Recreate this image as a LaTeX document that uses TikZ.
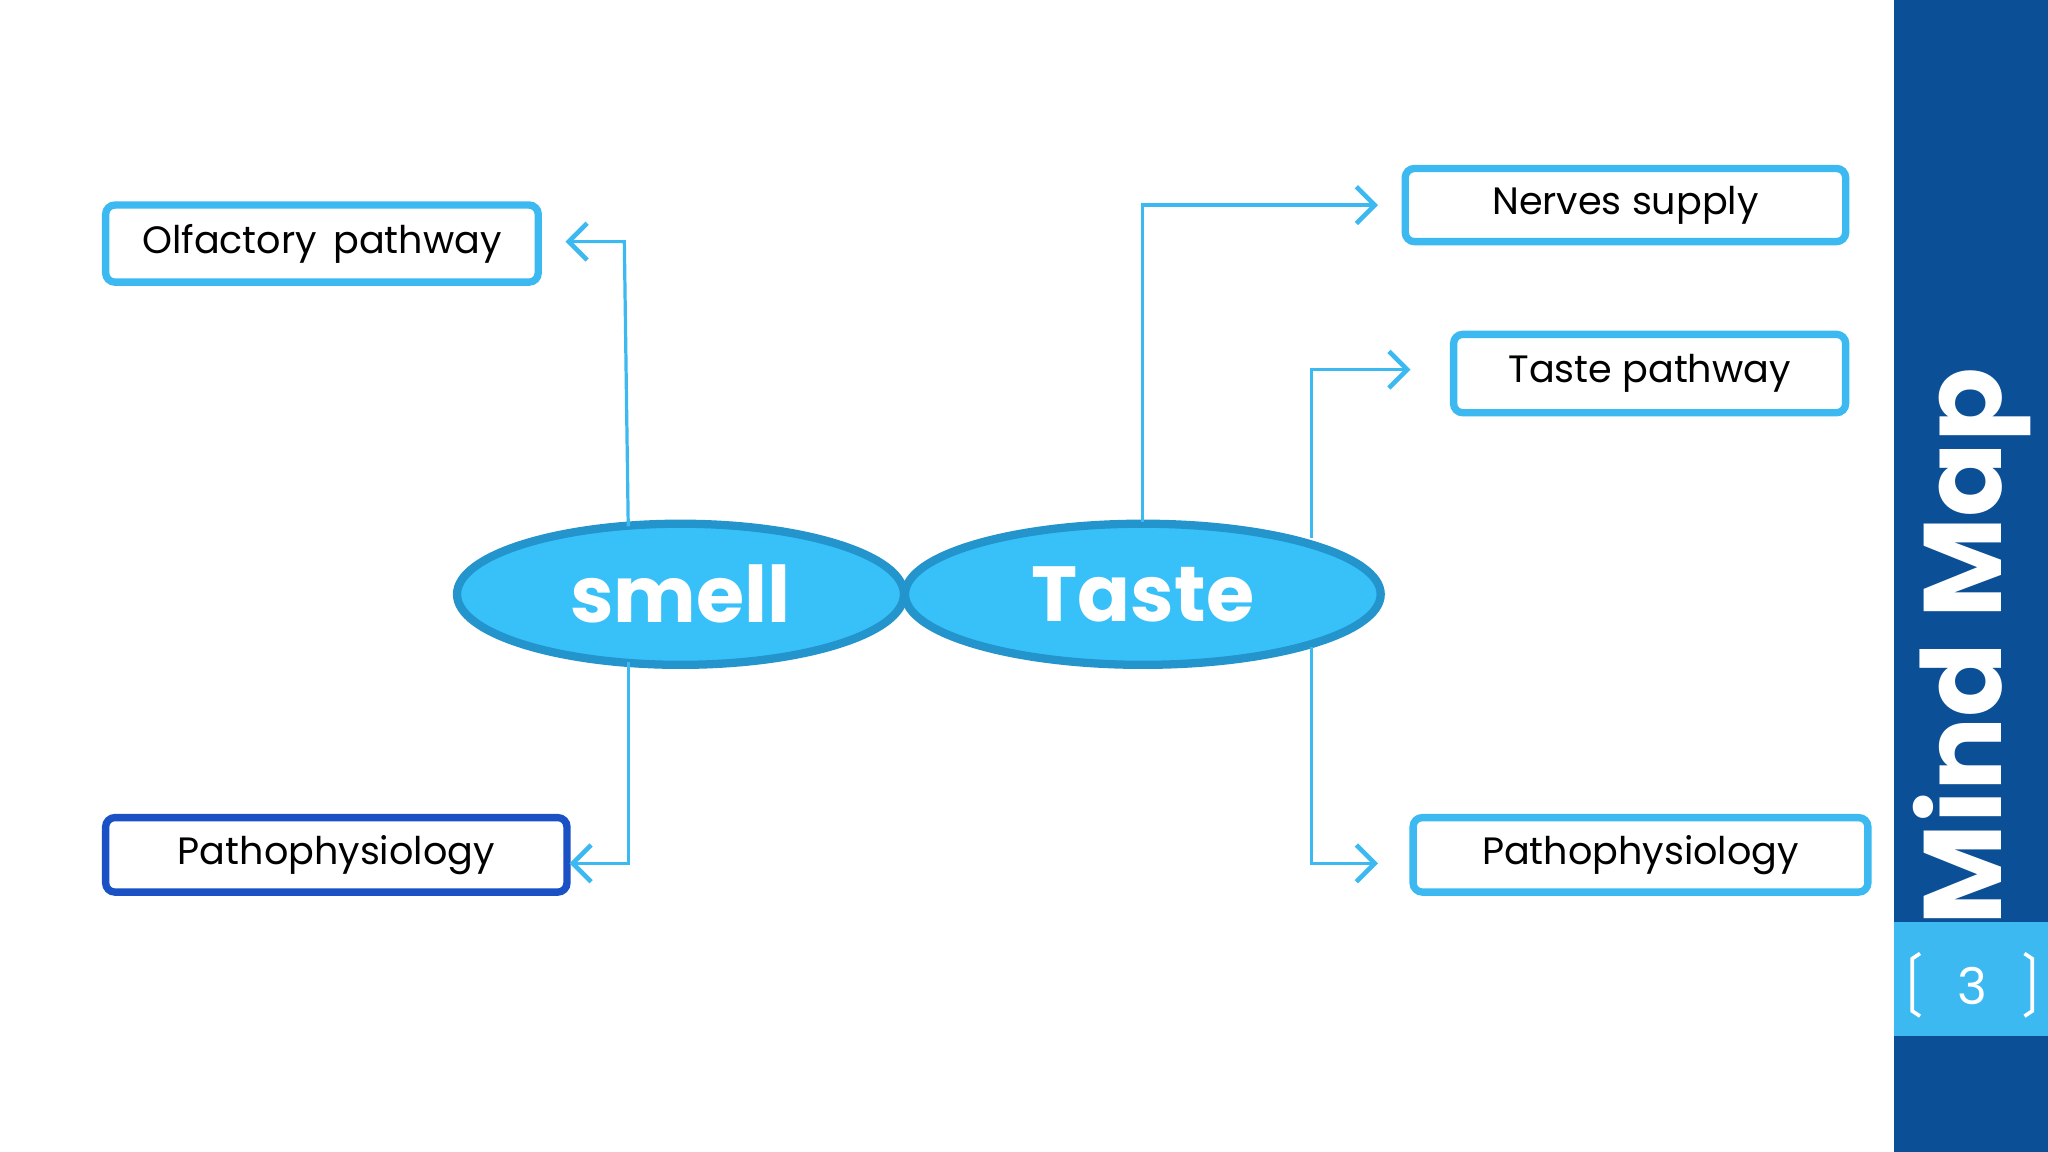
\documentclass[tikz,border=0pt]{standalone}
\usepackage{fontspec}
\setmainfont{Poppins}
\usetikzlibrary{shapes.geometric,arrows.meta}
\definecolor{dark}{HTML}{0B4F96}
\definecolor{light}{HTML}{3BB9F0}
\definecolor{ellf}{HTML}{38C0F8}
\definecolor{elld}{HTML}{2394CC}
\definecolor{boxb}{HTML}{3BB9F0}
\begin{document}
\begin{tikzpicture}[x=0.01cm,y=-0.01cm,
  box/.style={draw=boxb,line width=1.6pt,rounded corners=2pt,fill=white,font=\fontsize{8.3pt}{10pt}\selectfont,inner sep=0},
  ell/.style={ellipse,draw=elld,line width=1.8pt,fill=ellf,text=white,font=\fontsize{17pt}{20pt}\selectfont\bfseries,inner sep=0},
  con/.style={draw=light,line width=0.7pt,-{Straight Barb[length=4pt,width=8pt,line width=1pt]}}]
\useasboundingbox (0,0) rectangle (1568,882);
\fill[white] (0,0) rectangle (1568,882);
\fill[dark] (1450,0) rectangle (1568,882);
\fill[light] (1450,706) rectangle (1568,793);
\node[text=white,font=\fontsize{11pt}{12pt}\selectfont] (num) at (1510,755) {3};
\draw[white,line width=0.8pt] (1470,730) -- (1464,734) -- (1464,774) -- (1470,778);
\draw[white,line width=0.8pt] (1550,730) -- (1556,734) -- (1556,774) -- (1550,778);
\node[rotate=90,text=white,font=\fontsize{24pt}{26pt}\selectfont\bfseries] (mm) at (1510,495) {Mind Map};

\node[ell,minimum width=342\pgflinewidth*0+3.42cm,minimum height=1.08cm] (smell) at (521,455) {smell};
\node[ell,minimum width=3.64cm,minimum height=1.08cm] (taste) at (875,455) {Taste};

\node[box,minimum width=3.31cm,minimum height=0.59cm] (olf) at (246.5,186.5) {Olfactory\, pathway};
\node[box,minimum width=3.37cm,minimum height=0.56cm] (nerv) at (1244.5,157) {Nerves supply};
\node[box,minimum width=3.00cm,minimum height=0.60cm] (tp) at (1263,286) {Taste pathway};
\node[box,draw=blue!45!boxb!80!black,minimum width=3.53cm,minimum height=0.57cm] (pl) at (257.5,654.5) {Pathophysiology};
\node[box,minimum width=3.48cm,minimum height=0.57cm] (pr) at (1256,654.5) {Pathophysiology};

\coordinate (a1) at (433,185);
\coordinate (a2) at (436,661);
\coordinate (a3) at (1055,157);
\coordinate (a4) at (1080,283);
\coordinate (a5) at (1055,661);
\draw[con] (481,403) -- (478,185) -- (a1);
\draw[con] (481,507) -- (481,661) -- (a2);
\draw[con] (875,400) -- (875,157) -- (a3);
\draw[con] (1004,412) -- (1004,283) -- (a4);
\draw[con] (1004,495) -- (1004,661) -- (a5);
\end{tikzpicture}
\end{document}
